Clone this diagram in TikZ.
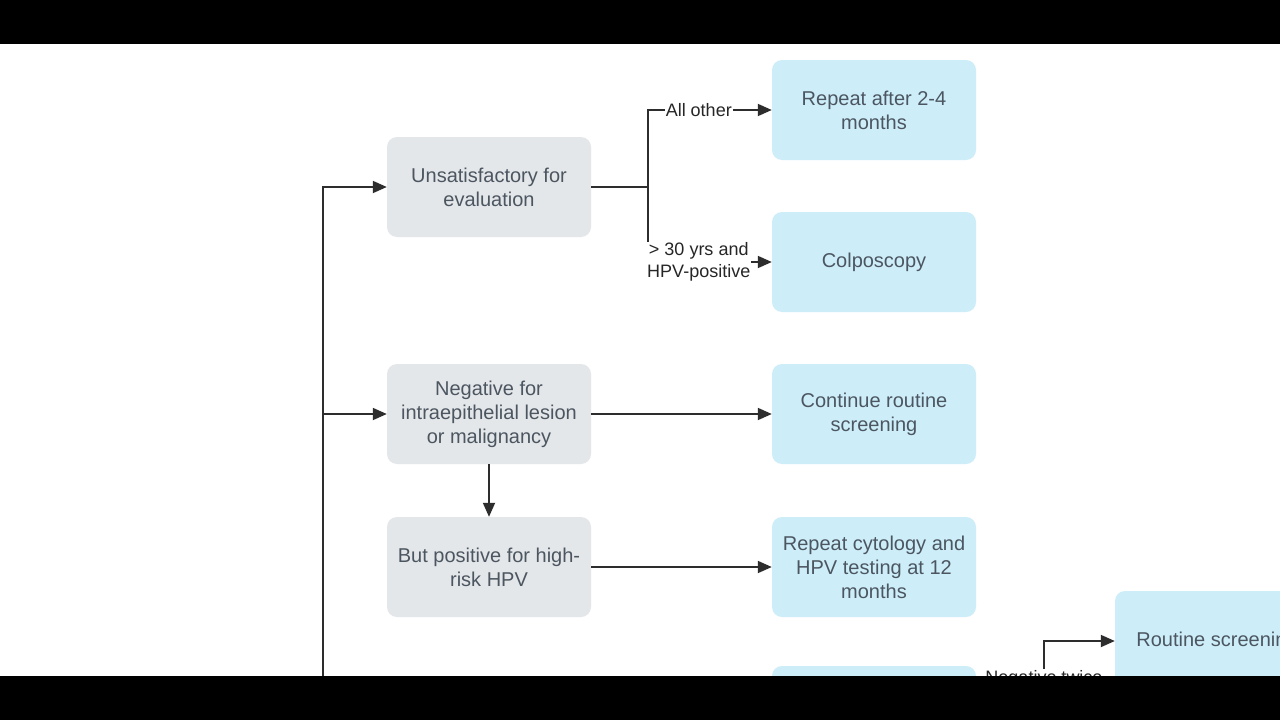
\documentclass[tikz,border=0pt]{standalone}
\usepackage{fontspec}
\setmainfont{Liberation Sans}
\usetikzlibrary{arrows.meta}
\definecolor{boxgray}{RGB}{228,231,234}
\definecolor{boxblue}{RGB}{205,238,249}
\definecolor{boxtext}{RGB}{76,86,96}
\definecolor{linegray}{RGB}{45,45,45}

\begin{document}
\begin{tikzpicture}[x=1pt, y=-1pt,
		graybox/.style={fill=boxgray, rounded corners=10pt, minimum width=204pt, minimum height=100pt, align=center, text=boxtext, font=\fontsize{20}{24}\selectfont},
		bluebox/.style={graybox, fill=boxblue},
		lbl/.style={fill=white, inner sep=1pt, align=center, text=black!85, font=\fontsize{18}{22}\selectfont},
		conn/.style={draw=linegray, line width=1.8pt, -{Triangle[length=14pt, width=12pt]}}]
		\useasboundingbox (0,0) rectangle (1280,720);
		\fill[white] (0,0) rectangle (1280,720);
		
		\begin{scope}
		\clip (0,44) rectangle (1280,676);
		% left column
		\node [graybox] (unsat) at (489,187) {Unsatisfactory for\\evaluation};
		\node [graybox] (neg) at (489,414) {Negative for\\intraepithelial lesion\\or malignancy};
		\node [graybox] (pos) at (489,567) {But positive for high-\\risk HPV};
		% right column
		\node [bluebox] (rep) at (874,110) {Repeat after 2-4\\months};
		\node [bluebox] (colp) at (874,262) {Colposcopy};
		\node [bluebox] (cont) at (874,414) {Continue routine\\screening};
		\node [bluebox] (cyt) at (874,567) {Repeat cytology and\\HPV testing at 12\\months};
		\node [bluebox] (last) at (874,716) {};
		\node [bluebox] (routine) at (1217,641) {Routine screening};
		
		\coordinate (trunk) at (323,760);
		\coordinate (fork) at (648,187);
		\coordinate (bend) at (1044,716);
		
		\draw [conn] (trunk) |- (unsat.west);
		\draw [conn] (trunk) |- (neg.west);
		\draw [linegray, line width=1.8pt] (unsat.east) -- (fork);
		\draw [conn] (fork) |- node[lbl, pos=0.705] {All other} (rep.west);
		\draw [conn] (fork) |- node[lbl, pos=0.705] {> 30 yrs and\\HPV-positive} (colp.west);
		\draw [conn] (neg.east) -- (cont.west);
		\draw [conn] (neg.south) -- (pos.north);
		\draw [conn] (pos.east) -- (cyt.west);
		\draw [linegray, line width=1.8pt] (last.east) -- (bend);
		\draw [conn] (bend) |- node[lbl, pos=0.25] {Negative twice} (routine.west);
		\end{scope}
		
		% video bars
		\fill[black] (0,0) rectangle (1280,44);
		\fill[black] (0,676) rectangle (1280,720);
	\end{tikzpicture}
\end{document}
